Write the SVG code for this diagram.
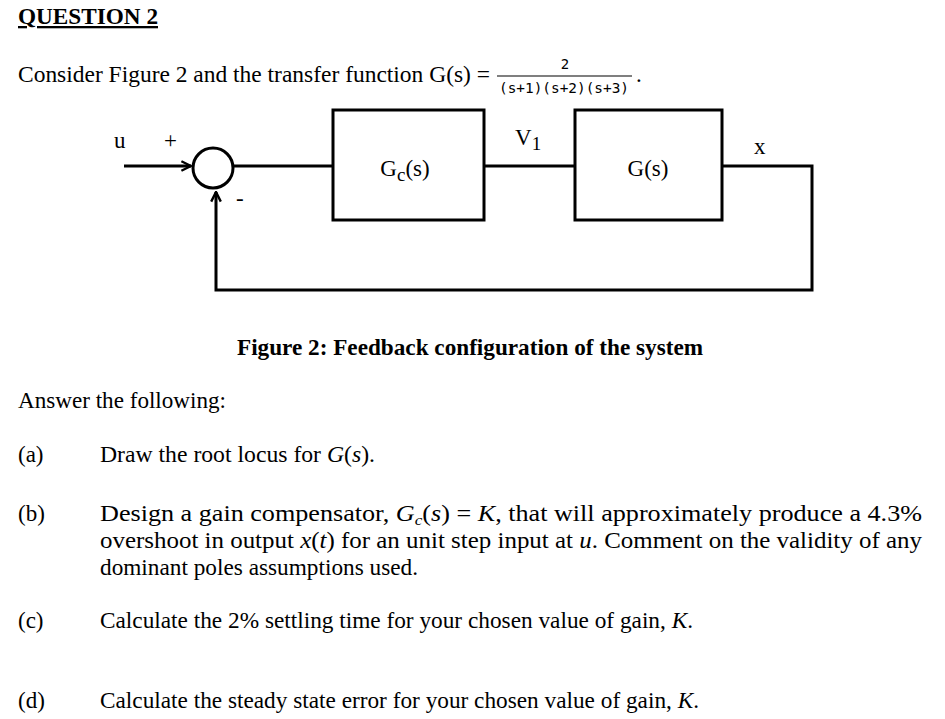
<svg xmlns="http://www.w3.org/2000/svg" width="945" height="719" viewBox="0 0 945 719">
<style>
text{font-family:"Liberation Serif","DejaVu Serif",serif;font-size:23px;fill:#000}
.it{font-style:italic}
.ln{stroke:#000;stroke-width:3;fill:none}
.bx{stroke:#000;stroke-width:3;fill:#fff}
.sm{font-family:"DejaVu Sans Mono","Liberation Mono",monospace;font-size:14px}
</style>
<defs><marker id="ar" viewBox="0 0 10 10" refX="9" refY="5" markerWidth="4" markerHeight="4" orient="auto"><path d="M1,1 L9,5 L1,9" fill="none" stroke="#000" stroke-width="2"/></marker></defs>
<text x="18" y="24" font-weight="bold" font-size="23" text-decoration="underline" textLength="140" lengthAdjust="spacingAndGlyphs">QUESTION 2</text>
<text x="18" y="82" textLength="472" lengthAdjust="spacingAndGlyphs">Consider Figure 2 and the transfer function G(s) =</text>
<text x="565" y="69" class="sm" text-anchor="middle">2</text>
<line x1="497" y1="76" x2="632" y2="76" stroke="#000" stroke-width="1.2"/>
<text x="564" y="93" class="sm" text-anchor="middle" textLength="130" lengthAdjust="spacingAndGlyphs">(s+1)(s+2)(s+3)</text>
<text x="636" y="82">.</text>
<g id="connectors">
<line class="ln" x1="124" y1="166" x2="191" y2="166" marker-end="url(#ar)"/>
<line class="ln" x1="233" y1="166" x2="333" y2="166"/>
<line class="ln" x1="484" y1="166" x2="575" y2="166"/>
<polyline class="ln" points="722,166 812,166 812,290 216,290 216,192" marker-end="url(#ar)"/>
</g>
<g id="sum"><circle cx="213" cy="168" r="20" class="bx"/></g>
<g id="gc"><rect x="333" y="110" width="151" height="110" class="bx"/><text x="405" y="176" text-anchor="middle" font-size="29">G<tspan font-size="19" dy="5">c</tspan><tspan dy="-5">(s)</tspan></text></g>
<g id="g"><rect x="575" y="110" width="147" height="110" class="bx"/><text x="648" y="176" text-anchor="middle" font-size="29">G(s)</text></g>
<text x="114" y="148" font-size="26">u</text>
<text x="164" y="148" font-size="26">+</text>
<text x="236" y="206" font-size="22">-</text>
<text x="515" y="145" font-size="29">V<tspan font-size="19" dy="5">1</tspan></text>
<text x="754" y="154" font-size="26">x</text>
<text x="470" y="355" text-anchor="middle" font-weight="bold" textLength="466" lengthAdjust="spacingAndGlyphs">Figure 2: Feedback configuration of the system</text>
<text x="18" y="408" textLength="208" lengthAdjust="spacingAndGlyphs">Answer the following:</text>
<text x="18" y="462">(a)</text>
<text x="100" y="462" textLength="275" lengthAdjust="spacingAndGlyphs">Draw the root locus for <tspan class="it">G</tspan>(<tspan class="it">s</tspan>).</text>
<text x="18" y="521">(b)</text>
<text x="100" y="521" textLength="822" lengthAdjust="spacingAndGlyphs">Design a gain compensator, <tspan class="it">G</tspan><tspan class="it" font-size="15" dy="4">c</tspan><tspan dy="-4">(</tspan><tspan class="it">s</tspan>) = <tspan class="it">K</tspan>, that will approximately produce a 4.3%</text>
<text x="100" y="548" textLength="822" lengthAdjust="spacingAndGlyphs">overshoot in output <tspan class="it">x</tspan>(<tspan class="it">t</tspan>) for an unit step input at <tspan class="it">u</tspan>.  Comment on the validity of any</text>
<text x="100" y="575" textLength="318" lengthAdjust="spacingAndGlyphs">dominant poles assumptions used.</text>
<text x="18" y="628">(c)</text>
<text x="100" y="628" textLength="593" lengthAdjust="spacingAndGlyphs">Calculate the 2% settling time for your chosen value of gain, <tspan class="it">K</tspan>.</text>
<text x="18" y="708">(d)</text>
<text x="100" y="708" textLength="599" lengthAdjust="spacingAndGlyphs">Calculate the steady state error for your chosen value of gain, <tspan class="it">K</tspan>.</text>
</svg>
